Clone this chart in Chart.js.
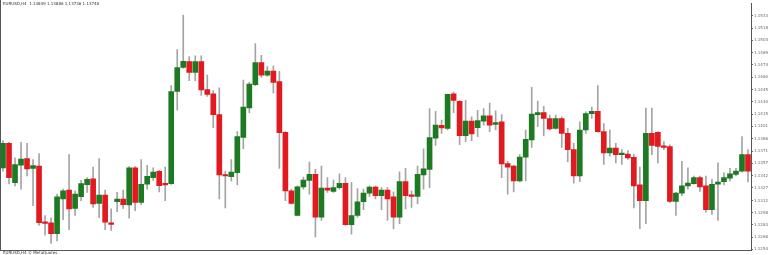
<!DOCTYPE html>
<html>
<head>
<meta charset="utf-8">
<script src="https://cdn.jsdelivr.net/npm/chart.js@4.4.0/dist/chart.umd.min.js"></script>
<style>
  html, body { margin: 0; padding: 0; background: #fff; }
</style>
</head>
<body>
<canvas id="grafico" width="768" height="255"></canvas>
<script>
// EURUSD H4
const abre = [1.13515,1.13809,1.13338,1.13546,1.13625,1.13508,1.13535,1.12859,1.12859,1.12729,
  1.13142,1.13248,1.13031,1.13169,1.13314,1.13385,1.13090,1.13189,1.12859,1.13110,
  1.13142,1.13071,1.13515,1.13102,1.13319,1.13397,1.13472,1.13326,1.13326,1.14427,
  1.14714,1.14784,1.14655,1.14784,1.14451,1.14399,1.14151,1.13432,1.13409,1.13456,
  1.13877,1.14230,1.14510,1.14773,1.14623,1.14670,1.14545,1.13939,1.13240,1.12945,
  1.13287,1.13366,1.13437,1.12925,1.13272,1.13232,1.13279,1.13331,1.12836,1.12945,
  1.13110,1.13213,1.13284,1.13181,1.13248,1.13169,1.12925,1.13350,1.13181,1.13174,
  1.13429,1.13496,1.13868,1.14022,1.13986,1.14399,1.14309,1.13900,1.14074,1.13995,
  1.14074,1.14136,1.14033,1.14065,1.13567,1.13535,1.13358,1.13641,1.13849,1.14151,
  1.14175,1.14104,1.13986,1.14104,1.13927,1.13732,1.13417,1.13967,1.14163,1.14191,
  1.13947,1.13692,1.13750,1.13673,1.13680,1.13641,1.13311,1.13122,1.13927,1.13939,
  1.13774,1.13770,1.13114,1.13213,1.13299,1.13326,1.13397,1.13299,1.13016,1.13319,
  1.13350,1.13390,1.13437,1.13476,1.13673];
const maxima = [1.13841,1.13821,1.13633,1.13821,1.13809,1.13614,1.13684,1.12945,1.12918,1.13201,
  1.13260,1.13673,1.13240,1.13366,1.13397,1.13523,1.13625,1.13248,1.13024,1.13221,
  1.13248,1.13531,1.13531,1.13614,1.13546,1.13515,1.13484,1.13523,1.14498,1.14929,
  1.15339,1.14843,1.14852,1.14852,1.14623,1.14439,1.14470,1.13476,1.13614,1.13947,
  1.14564,1.14537,1.15000,1.14859,1.14725,1.14734,1.14667,1.13947,1.13260,1.13299,
  1.13405,1.13585,1.13496,1.13535,1.13397,1.13370,1.13444,1.13397,1.13338,1.13267,
  1.13260,1.13299,1.13299,1.13279,1.13279,1.13228,1.13467,1.13508,1.13240,1.13535,
  1.13743,1.14222,1.14191,1.14085,1.14395,1.14419,1.14319,1.14321,1.14124,1.14203,
  1.14222,1.14289,1.14195,1.14151,1.13594,1.13546,1.13673,1.13967,1.14478,1.14313,
  1.14250,1.14144,1.14144,1.14124,1.13986,1.13809,1.14065,1.14183,1.14242,1.14498,
  1.14045,1.13967,1.13809,1.13732,1.13720,1.13676,1.13523,1.14230,1.14230,1.13947,
  1.13829,1.13791,1.13221,1.13594,1.13515,1.13417,1.13417,1.13417,1.13378,1.13574,
  1.13456,1.13508,1.13508,1.13888,1.13732];
const minima = [1.13476,1.13322,1.13299,1.13260,1.13417,1.13063,1.12827,1.12709,1.12612,1.12642,
  1.12895,1.12777,1.12945,1.13122,1.13221,1.13043,1.12918,1.12777,1.12768,1.12992,
  1.13031,1.12913,1.13004,1.13075,1.13260,1.13366,1.13228,1.13122,1.13317,1.14203,
  1.14702,1.14557,1.14557,1.14380,1.14368,1.13995,1.13142,1.13036,1.13358,1.13311,
  1.13743,1.14171,1.14498,1.14596,1.14608,1.14411,1.13508,1.13122,1.13083,1.12939,
  1.13260,1.13201,1.12689,1.12886,1.13221,1.13222,1.13260,1.12827,1.12721,1.12925,
  1.13016,1.13174,1.13142,1.13016,1.12886,1.12788,1.12847,1.13024,1.13043,1.13083,
  1.13260,1.13279,1.13782,1.13927,1.13967,1.14175,1.13791,1.13829,1.13841,1.13888,
  1.14026,1.13947,1.13967,1.13397,1.13201,1.13228,1.13346,1.13358,1.13759,1.14006,
  1.13900,1.13967,1.13977,1.13759,1.13585,1.13331,1.13350,1.13927,1.14104,1.13939,
  1.13555,1.13653,1.13574,1.13555,1.13614,1.13036,1.12788,1.12847,1.13673,1.13574,
  1.13732,1.13102,1.12945,1.13181,1.13260,1.13319,1.13232,1.12984,1.12957,1.12886,
  1.13311,1.13358,1.13417,1.13464,1.13346];
const fecha = [1.13809,1.13397,1.13555,1.13621,1.13503,1.13543,1.12859,1.12851,1.12729,1.13169,
  1.13240,1.13024,1.13201,1.13326,1.13378,1.13083,1.13189,1.12866,1.12839,1.13142,
  1.13075,1.13515,1.13102,1.13319,1.13413,1.13464,1.13302,1.13311,1.14427,1.14714,
  1.14788,1.14655,1.14784,1.14446,1.14392,1.14151,1.13429,1.13417,1.13464,1.13888,
  1.14242,1.14517,1.14773,1.14623,1.14670,1.14537,1.13936,1.13240,1.13090,1.13287,
  1.13370,1.13437,1.12925,1.13272,1.13248,1.13279,1.13331,1.12836,1.12945,1.13110,
  1.13213,1.13284,1.13181,1.13248,1.13142,1.12925,1.13350,1.13181,1.13174,1.13437,
  1.13503,1.13877,1.14026,1.13991,1.14392,1.14321,1.13900,1.14074,1.13920,1.14081,
  1.14136,1.14026,1.14057,1.13562,1.13523,1.13358,1.13644,1.13857,1.14156,1.14175,
  1.14104,1.13979,1.14104,1.13927,1.13732,1.13417,1.13967,1.14163,1.14191,1.13947,
  1.13692,1.13750,1.13673,1.13688,1.13633,1.13299,1.13122,1.13927,1.13782,1.13770,
  1.13759,1.13114,1.13213,1.13299,1.13334,1.13397,1.13287,1.13016,1.13319,1.13346,
  1.13397,1.13444,1.13476,1.13673,1.13476];

// rótulos do eixo de preços (direita)
const precos = ["1.15335","1.15185","1.15040","1.14890","1.14745","1.14600","1.14450","1.14305",
  "1.14155","1.14010","1.13860","1.13715","1.13570","1.13420","1.13275","1.13125",
  "1.12980","1.12835","1.12685","1.12540"];

const titulo = "EURUSD,H4  1.13849 1.13886 1.13736 1.13748";
const rodape = "EURUSD,H4 © MetaQuotes";

const rotulos = abre.map((_, i) => i);
const corpos = abre.map((o, i) => [o, fecha[i]]);
const pavios = minima.map((l, i) => [l, maxima[i]]);
const cores = abre.map((o, i) => fecha[i] >= o ? "#1d7a22" : "#e2191f");

const textos = {
  id: "textos",
  afterDraw(chart) {
    const c = chart.ctx;
    c.save();
    c.fillStyle = "#333";
    c.font = "4px 'DejaVu Sans'";
    c.textBaseline = "middle";
    c.fillText(titulo, 3, 4);
    c.fillText(rodape, 3, 253);
    c.strokeStyle = "#555";
    c.lineWidth = 1;
    c.beginPath();
    c.moveTo(0.5, 0);
    c.lineTo(0.5, chart.chartArea.bottom);
    c.stroke();
    c.restore();
  }
};

new Chart(document.getElementById("grafico"), {
  type: "bar",
  data: {
    labels: rotulos,
    datasets: [
      { data: corpos, backgroundColor: cores, barThickness: 5, minBarLength: 1.5, grouped: false, order: 0 },
      { data: pavios, backgroundColor: "#a4a4a4", barThickness: 1, grouped: false, order: 1 }
    ]
  },
  options: {
    responsive: false,
    animation: false,
    devicePixelRatio: 1,
    layout: { padding: 0 },
    plugins: { legend: { display: false }, tooltip: { enabled: false } },
    scales: {
      x: {
        grid: { display: false, drawTicks: false },
        ticks: { display: false },
        border: { display: true, color: "#555" },
        afterFit: s => { s.height = 5; }
      },
      y: {
        position: "right",
        min: 1.12533,
        max: 1.15480,
        afterBuildTicks: s => { s.ticks = precos.map(p => ({ value: parseFloat(p) })); },
        afterFit: s => { s.width = 17; },
        ticks: {
          autoSkip: false,
          padding: 1,
          color: "#666",
          font: { family: "DejaVu Sans", size: 4 },
          callback: v => v.toFixed(5)
        },
        grid: { drawOnChartArea: false, tickLength: 2, color: "#666" },
        border: { display: true, color: "#555" }
      }
    }
  },
  plugins: [textos]
});
</script>
</body>
</html>
